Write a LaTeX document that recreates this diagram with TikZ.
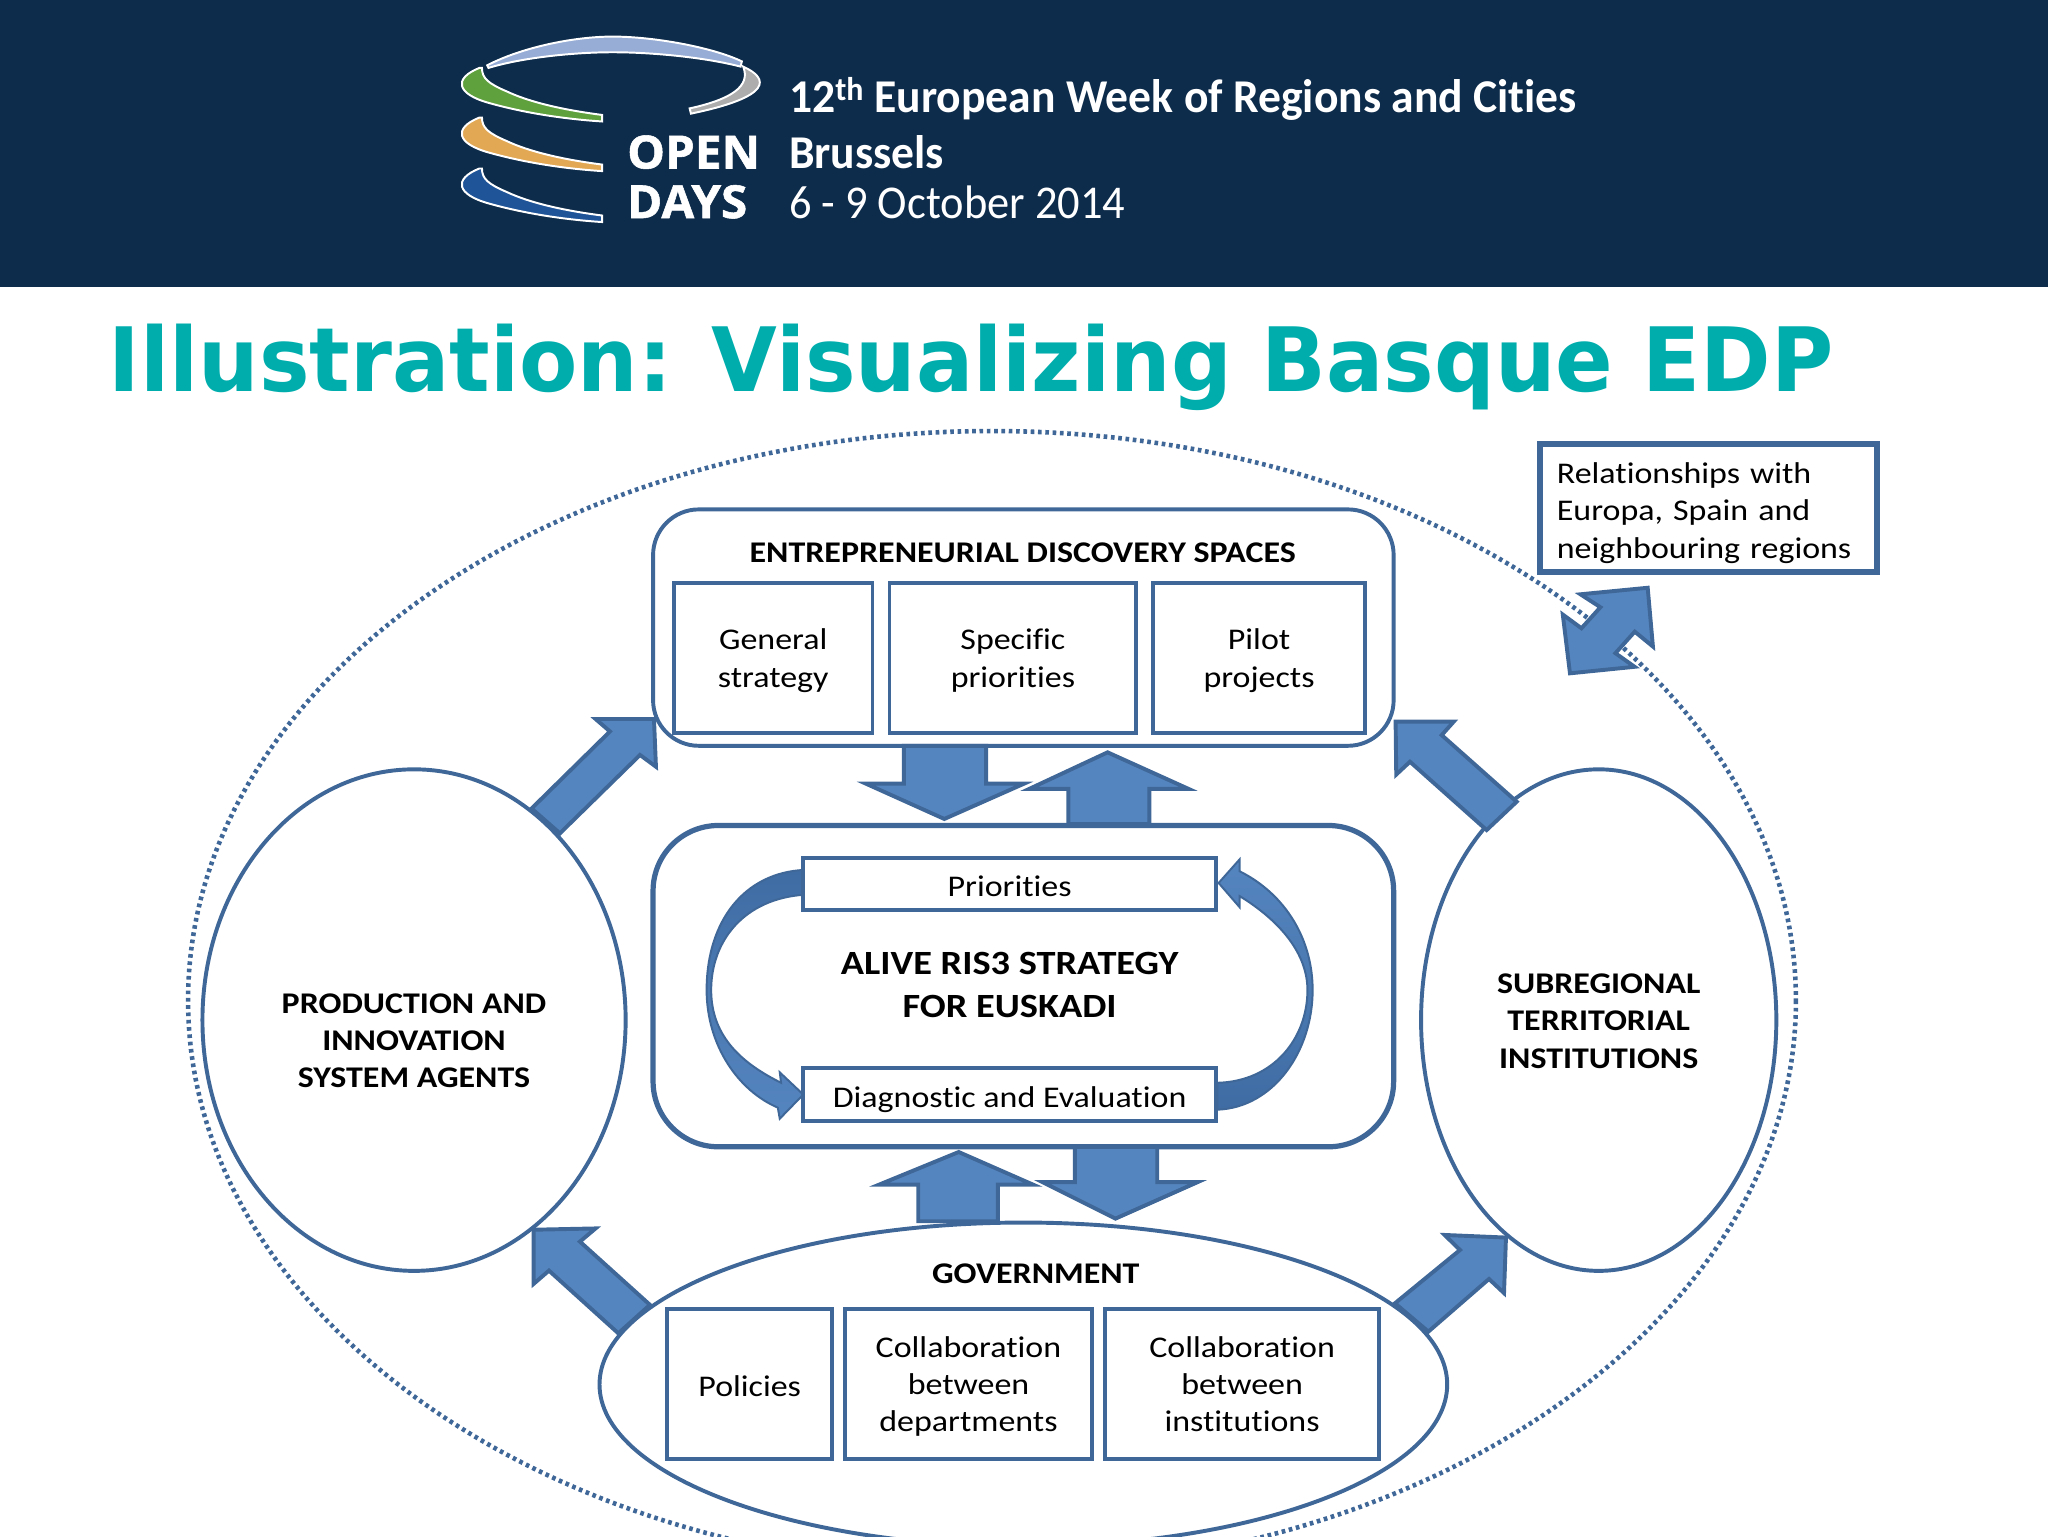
\documentclass[tikz,border=0pt]{standalone}
\usepackage{fontspec}
\usetikzlibrary{shapes.geometric}
\setmainfont{Carlito}
\newfontfamily\titlefont[FakeStretch=0.957]{DejaVu Sans}
\newfontfamily\logofont[FakeStretch=1.04,BoldFeatures={FakeBold=1.2}]{Open Sans}
\newfontfamily\headfont[FakeStretch=0.97,Ligatures=NoCommon]{Carlito}
\newfontfamily\datefont[FakeStretch=0.945]{Carlito}
\newfontfamily\bodyfont[FakeStretch=1.13,Ligatures=NoCommon]{Carlito}
\newcommand{\linelift}{\rule{0pt}{25pt}}
\definecolor{headbg}{HTML}{0D2B4A}
\definecolor{titleteal}{HTML}{00ADAD}
\definecolor{edge}{HTML}{3F6798}
\definecolor{arrowfill}{HTML}{5585BF}
\definecolor{arrowdark}{HTML}{3F6CA3}
\definecolor{topband}{HTML}{97ADD6}
\tikzset{
  bodytext/.style={font=\bodyfont\fontsize{23}{28.5}\selectfont,align=center,inner sep=0pt,execute at begin node={\rule{0pt}{28pt}},execute at end node=\strut},
  boldtext/.style={bodytext,font=\bodyfont\bfseries\fontsize{23}{28.5}\selectfont},
  strat/.style={draw=edge,line width=3pt,fill=white,bodytext},
  slim/.style={strat,minimum width=316pt,minimum height=40pt,execute at begin node={\rule{0pt}{22pt}}},
  region/.style={draw=edge,line width=3pt,fill=white,rounded corners=#1},
  agent/.style={draw=edge,line width=3pt,fill=white,ellipse,inner sep=0pt},
  blockarrow/.style={draw=edge,line width=3pt,fill=arrowfill,line join=miter},
  swoosh/.style={draw=white,line width=1.5pt,fill=#1},
  headtext/.style={anchor=base west,inner sep=0pt,text=white}
}
\begin{document}
\begin{tikzpicture}[x=1pt,y=-1pt]
\useasboundingbox (0,0) rectangle (1568,1176);
\clip (0,0) rectangle (1568,1176);
\fill[headbg] (0,0) rectangle (1568,220);
% logo
\draw[swoosh=topband] (373,50) .. controls (400,36) and (440,28) .. (469,28) .. controls (500,28) and (545,36) .. (568,47) -- (567,51) .. controls (540,44) and (500,40) .. (469,40) .. controls (440,40) and (400,44) .. (374,52) -- cycle;
\draw[swoosh={black!32}] (569,51) .. controls (589,60) and (592,74) .. (529,87) -- (528,83) .. controls (560,76) and (575,66) .. (569,51) -- cycle;
\foreach \dy/\col in {0/5FA13C,38/E3A853,77/1F5499}{
  \definecolor{swooshcol}{HTML}{\col}
  \draw[swoosh=swooshcol,shift={(0,\dy)}] (367,52) .. controls (347,60) and (349,72) .. (375,79) .. controls (400,86) and (430,91) .. (461,93) -- (461,88) .. controls (430,84) and (405,78) .. (388,70) .. controls (374,64) and (369,60) .. (369,52) -- cycle;
}
\node[headtext,font=\logofont\bfseries\fontsize{35}{35}\selectfont] (open) at (480,129) {OPEN};
\node[headtext,font=\logofont\bfseries\fontsize{35}{35}\selectfont] (days) at (480,167) {DAYS};
\node[headtext,font=\headfont\bfseries\fontsize{36}{36}\selectfont] (week) at (604,86) {12\textsuperscript{th} European Week of Regions and Cities};
\node[headtext,font=\headfont\bfseries\fontsize{36}{36}\selectfont] (city) at (604,129) {Brussels};
\node[headtext,font=\datefont\fontsize{36}{36}\selectfont] (date) at (604,167) {6 - 9 October 2014};
\node[anchor=base west,inner sep=0pt,text=titleteal,font=\titlefont\bfseries\fontsize{68}{68}\selectfont] (title) at (83,300) {Illustration: Visualizing Basque EDP};
% outer boundary
\draw[edge,line width=3.5pt,dash pattern=on 2.8pt off 2.8pt] (759.5,766) ellipse (615.5 and 436);
% regions
\node[region=35pt,minimum width=567pt,minimum height=181pt] (spaces) at (783.5,480.5) {};
\node[region=50pt,line width=4pt,minimum width=567pt,minimum height=246pt] (alive) at (783.5,755) {};
\node[agent,minimum width=324pt,minimum height=384pt] (prod) at (317,781) {};
\node[agent,minimum width=272pt,minimum height=384pt] (subreg) at (1224,781) {};
\node[agent,minimum width=649pt,minimum height=248pt] (gov) at (783.5,1060) {};
\node[boldtext] (spaceslab) at (783,421) {ENTREPRENEURIAL DISCOVERY SPACES};
\node[strat,minimum width=152pt,minimum height=115pt] (general) at (592,503.5) {\linelift General\\strategy};
\node[strat,minimum width=189pt,minimum height=115pt] (specific) at (775.5,503.5) {\linelift Specific\\priorities};
\node[strat,minimum width=162pt,minimum height=115pt] (pilot) at (964,503.5) {\linelift Pilot\\projects};
\node[boldtext] (prodlab) at (317,801) {PRODUCTION AND\\INNOVATION\\SYSTEM AGENTS};
\node[boldtext] (subreglab) at (1224,786) {SUBREGIONAL\\TERRITORIAL\\INSTITUTIONS};
\node[boldtext] (govlab) at (793,973) {GOVERNMENT};
\node[strat,minimum width=126pt,minimum height=115pt] (policies) at (574,1059.5) {Policies};
\node[strat,minimum width=189pt,minimum height=115pt] (depts) at (741.5,1059.5) {\linelift Collaboration\\between\\departments};
\node[strat,minimum width=210pt,minimum height=115pt] (insts) at (951,1059.5) {\linelift Collaboration\\between\\institutions};
\node[draw=edge,line width=4pt,fill=white,minimum width=258pt,minimum height=98pt,bodytext,align=left,text width=232pt,execute at begin node={\rule{0pt}{25pt}}] (relations) at (1308,389) {Relationships with\\Europa, Spain and\\neighbouring regions};
% inner loop
\fill[top color=arrowdark,bottom color=arrowfill,draw=edge,line width=1.5pt] (616,666) .. controls (570,668) and (541,705) .. (541,758) .. controls (541,800) and (565,835) .. (595.5,848) -- (597,856.5) -- (615,838) -- (597,821) -- (598,829) .. controls (570,815) and (544.5,795) .. (544.5,758) .. controls (544.5,720) and (570,688) .. (616,685) -- cycle;
\fill[top color=arrowfill,bottom color=arrowdark,draw=edge,line width=1.5pt] (932,849.6) .. controls (975,848) and (1005,805) .. (1005,758) .. controls (1005,720) and (985,685) .. (949,667) -- (949,658) -- (933,676) -- (949,694.5) -- (949,686) .. controls (980,705) and (1001,730) .. (1001,758) .. controls (1001,795) and (975,828) .. (932,829) -- cycle;
\node[slim] (prior) at (773,677) {Priorities};
\node[slim] (diag) at (773,838) {Diagnostic and Evaluation};
\node[inner sep=0pt,align=center,font=\bodyfont\bfseries\fontsize{26}{33}\selectfont] (alivelab) at (773,754) {ALIVE RIS3 STRATEGY\\FOR EUSKADI};
% block arrows
\draw[blockarrow] (692,571) -- (692,600) -- (663,600) -- (723,627) -- (784,600) -- (755,600) -- (755,571) -- cycle;
\draw[blockarrow] (818,631) -- (818,604) -- (788,604) -- (848,576) -- (910,604) -- (880,604) -- (880,631) -- cycle;
\draw[blockarrow] (703,935) -- (703,907) -- (673,907) -- (734,882) -- (791,907) -- (764,907) -- (764,935) -- cycle;
\draw[blockarrow] (823,878) -- (823,905) -- (798,905) -- (854,933) -- (917,905) -- (886,905) -- (886,878) -- cycle;
\draw[blockarrow] (407,619) -- (467,560) -- (456,550.5) -- (500.7,550.5) -- (502.2,587) -- (490,578) -- (428.7,638) -- cycle;
\draw[blockarrow] (1161.2,613.8) -- (1103.8,562.8) -- (1113,552.5) -- (1068.5,552.5) -- (1069,593) -- (1079.5,583.2) -- (1138.2,635.5) -- cycle;
\draw[blockarrow] (497.6,999) -- (444,950.6) -- (456,940.5) -- (408.5,941.5) -- (408.5,983) -- (420.3,972.8) -- (473.4,1020.8) -- cycle;
\draw[blockarrow] (1068,997.8) -- (1117.8,957) -- (1106,945.5) -- (1153,947.5) -- (1151.5,990) -- (1140,979.2) -- (1093.6,1019.5) -- cycle;
\draw[blockarrow] (1261.5,450) -- (1265.5,495) -- (1251.6,483.6) -- (1236.8,500.1) -- (1251.5,510.5) -- (1202,515.5) -- (1196.5,470.5) -- (1210.8,481) -- (1225.3,464.9) -- (1210,455) -- cycle;
\end{tikzpicture}
\end{document}
